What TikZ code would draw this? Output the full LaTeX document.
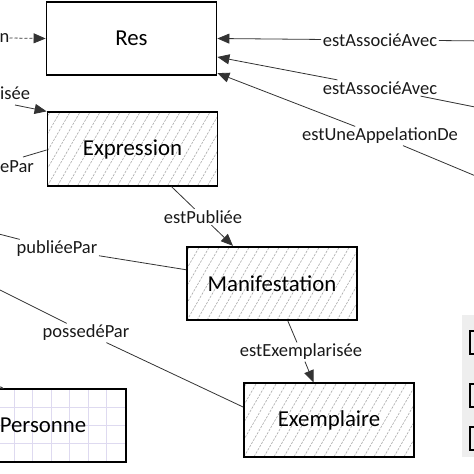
\documentclass[tikz,border=0pt]{standalone}
\usepackage{fontspec}
\setmainfont{Carlito}
\usetikzlibrary{arrows.meta,calc}
\definecolor{gridlav}{RGB}{222,218,240}
\begin{document}
\begin{tikzpicture}[x=1pt,y=-1pt,
  box/.style={draw=black, line width=1.8pt, fill=white, minimum width=170pt, minimum height=73.5pt, inner sep=0pt, font=\fontsize{22.8}{26}\selectfont},
  hatchline/.style={draw=gray!65, line width=0.6pt, dash pattern=on 2.5pt off 1.2pt},
  gridline/.style={draw=gridlav, line width=0.9pt},
  hatched/.style={box, path picture={\foreach \k in {-8,...,18}{\draw[hatchline] ($(path picture bounding box.south west)+(\k*10pt,0pt)$) -- ++(60:120pt);}}},
  gridded/.style={box, path picture={
     \foreach \k in {0,...,9}{\draw[gridline] ($(path picture bounding box.south west)+(2.8pt+\k*18.5pt,0pt)$) -- ++(0pt,90pt);}
     \foreach \k in {1,2,3}{\draw[gridline] ($(path picture bounding box.north west)+(0pt,-\k*18.3pt)$) -- ++(200pt,0pt);}}},
  lbl/.style={font=\fontsize{18.5}{20}\selectfont, inner sep=1.5pt, text=black!90},
  conn/.style={draw=black!80, line width=0.8pt},
  arr/.style={conn, -{Triangle[length=12pt,width=10pt]}},
  panel/.style={fill=gray!13, draw=none, minimum width=60pt, minimum height=142pt, inner sep=0pt},
  legbox/.style={draw=black, line width=1.6pt, minimum width=40pt, minimum height=23pt, inner sep=0pt}
]
\useasboundingbox (0,0) rectangle (474,474);

% boxes
\node[box] (res) at (131.5,38.5) {Res};
\node[hatched] (expr) at (132.5,149) {Expression};
\node[hatched] (manif) at (272,283.5) {Manifestation};
\node[hatched] (exemp) at (329,420) {Exemplaire};
\node[gridded] (pers) at (41,425.5) {\hspace*{4pt}Personne};

% legend
\node[panel] (legend) at (492,386) {};
\node[legbox] (lg1) at (490,342.5) {};
\node[legbox] (lg2) at (490,395.5) {};
\node[legbox] (lg3) at (490,438.5) {};

% left labels
\node[lbl, anchor=east, inner sep=0pt] (lN) at (9.5,38) {n};
\node[lbl, anchor=west, inner sep=0pt] (lIsee) at (0,93) {isée};
\node[lbl, anchor=west, inner sep=0pt] (lEPar) at (0,167) {ePar};
\node[lbl] (lPubPar) at (57,249) {publiéePar};
\node[lbl] (lPos) at (86,333) {possedéPar};
\node[lbl] (lPub) at (203,217) {estPubliée};
\node[lbl] (lExe) at (301,352) {estExemplarisée};

% right labels
\node[lbl] (lA1) at (380,40) {estAssociéAvec};
\node[lbl] (lA2) at (380,88) {estAssociéAvec};
\node[lbl] (lApp) at (380,136) {estUneAppelationDe};

% free ends
\coordinate (cIsee) at (15,105);
\coordinate (cEPar) at (23,157);
\coordinate (cPubL) at (-5,233);
\coordinate (cPosL) at (-5,287.5);
\coordinate (cR1) at (490,41);
\coordinate (cR2) at (490,110);
\coordinate (cR3) at (490,182);
\coordinate (cPers) at (-12,385);
\coordinate (cPersT) at (4,388.5);

% connectors
\draw[arr, dash pattern=on 3pt off 2pt] (lN.east) -- (res.west);
\draw[arr] (cIsee) -- (expr.north west);
\draw[conn] (cEPar) -- ($(expr.west)+(0,1)$);
\draw[conn] (expr) -- (lPub);
\draw[arr] (lPub) -- (manif);
\draw[conn] (cPubL) -- (lPubPar);
\draw[conn] (lPubPar) -- (manif);
\draw[conn] (cPosL) -- (lPos);
\draw[conn] (lPos) -- ($(exemp.west)+(0,-13)$);
\draw[conn] (manif) -- (lExe);
\draw[arr] (lExe) -- (exemp);
\draw[arr] (lA1) -- (res.east);
\draw[conn] (cR1) -- (lA1);
\draw[arr] (lA2) -- ($(res.east)+(0,18.5)$);
\draw[conn] (cR2) -- (lA2);
\draw[arr] (lApp) -- ($(res.south east)+(0,-3)$);
\draw[conn] (cR3) -- (lApp);
\draw[conn, line width=0.5pt, -{Stealth[length=4pt,width=3pt]}] (cPers) -- (cPersT);
\end{tikzpicture}
\end{document}
